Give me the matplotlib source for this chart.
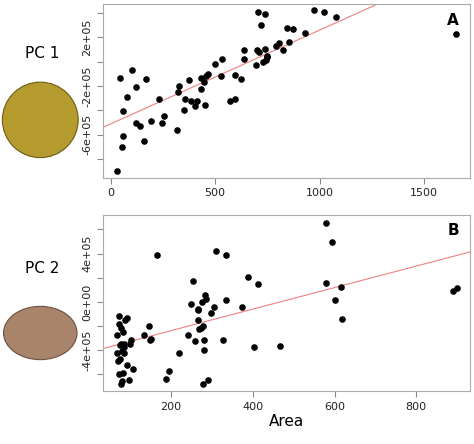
import numpy as np
import matplotlib
matplotlib.use("Agg")
import matplotlib.pyplot as plt
from matplotlib.patches import Ellipse

# Panel A (PC 1)
area_a = [30, 54, 57, 61, 43, 77, 102, 121, 121, 139, 160, 171, 195, 230, 246, 254, 319, 322, 327, 351, 354, 376, 386, 404, 413, 431, 434, 448, 454, 458, 464, 498, 528, 531, 571, 593, 593, 625, 636, 636, 697, 698, 708, 728, 737, 742, 748, 750, 703, 737, 718, 789, 804, 825, 845, 853, 872, 928, 973, 1019, 1077, 1654]
pc1 = [-8.95e5, -7.03e5, -6.13e5, -4.08e5, -1.32e5, -2.93e5, -6.9e4, -2.06e5, -5.06e5, -5.31e5, -6.54e5, -1.43e5, -4.83e5, -3.09e5, -5.06e5, -4.48e5, -5.63e5, -2.46e5, -1.97e5, -3.96e5, -3.06e5, -1.49e5, -3.2e5, -3.63e5, -3.22e5, -1.38e5, -2.22e5, -1.67e5, -3.52e5, -1.16e5, -9.8e4, -2.2e4, -1.2e5, 2.2e4, -3.2e5, -3.06e5, -1.07e5, -1.46e5, 1.9e4, 9.8e4, -2.9e4, 9.6e4, 7.6e4, -6e3, 1.03e5, 1.6e4, 3.5e4, 4.9e4, 4.1e5, 3.93e5, 3.0e5, 1.25e5, 1.52e5, 9.8e4, 2.73e5, 1.6e5, 2.68e5, 2.33e5, 4.25e5, 4.06e5, 3.68e5, 2.27e5]

# Panel B (PC 2)
area_b = [579, 595, 165, 310, 334, 253, 389, 412, 579, 616, 889, 899, 284, 285, 249, 275, 334, 266, 266, 297, 304, 374, 601, 618, 266, 274, 277, 269, 241, 258, 281, 326, 281, 219, 403, 467, 195, 187, 290, 277, 73, 92, 86, 73, 77, 82, 68, 133, 145, 148, 151, 101, 100, 78, 85, 74, 85, 80, 67, 84, 74, 70, 91, 107, 73, 82, 98, 77, 81]
pc2 = [6.57e5, 4.97e5, 3.86e5, 4.25e5, 3.86e5, 1.77e5, 2.04e5, 1.52e5, 1.57e5, 1.27e5, 9.4e4, 1.16e5, 6.1e4, 2.8e4, -1.4e4, 0, 1.4e4, -6e4, -6.3e4, -8.8e4, -4.4e4, -4.4e4, 1.7e4, -1.43e5, -1.52e5, -2.15e5, -1.99e5, -2.26e5, -2.76e5, -3.23e5, -3.12e5, -3.12e5, -4.0e5, -4.22e5, -3.72e5, -3.67e5, -5.71e5, -6.35e5, -6.49e5, -6.76e5, -1.19e5, -1.3e5, -1.52e5, -1.79e5, -2.12e5, -2.48e5, -2.7e5, -2.76e5, -1.96e5, -3.12e5, -3.09e5, -3.17e5, -3.5e5, -3.45e5, -3.45e5, -3.59e5, -3.73e5, -4.06e5, -4.22e5, -4.27e5, -4.69e5, -4.88e5, -5.24e5, -5.57e5, -5.93e5, -5.88e5, -6.49e5, -6.76e5, -6.57e5]

fit_a = (770.0, -5.11e5)  # slope, intercept
fit_b = (891.0, -4.16e5)

fig = plt.figure(figsize=(4.74, 4.44), dpi=100)
fig.patch.set_facecolor("white")

def style(ax):
    for s in ax.spines.values():
        s.set_color("#aaaaaa")
    ax.tick_params(colors="#888888", labelcolor="#222222", labelsize=8, length=4)
    for lab in ax.get_yticklabels():
        lab.set_rotation(90)
        lab.set_va("center")

axA = fig.add_axes([0.217, 0.599, 0.774, 0.392])
axA.scatter(area_a, pc1, s=14, color="black", zorder=3)
xs = np.array([-37, 1718])
axA.plot(xs, fit_a[0] * xs + fit_a[1], color="#f08080", lw=0.8)
axA.set_xlim(-37, 1718)
axA.set_ylim(-9.55e5, 4.73e5)
axA.set_xticks([0, 500, 1000, 1500])
axA.set_yticks([-8e5, -6e5, -4e5, -2e5, 0, 2e5, 4e5])
axA.set_yticklabels(["", "-6e+05", "", "-2e+05", "", "2e+05", ""])
axA.text(0.955, 0.88, "A", transform=axA.transAxes, fontsize=11, fontweight="bold", ha="center")
style(axA)

axB = fig.add_axes([0.217, 0.119, 0.774, 0.396])
axB.scatter(area_b, pc2, s=14, color="black", zorder=3)
xs = np.array([33, 931])
axB.plot(xs, fit_b[0] * xs + fit_b[1], color="#f08080", lw=0.8)
axB.set_xlim(33, 931)
axB.set_ylim(-7.39e5, 7.17e5)
axB.set_xticks([200, 400, 600, 800])
axB.set_yticks([-6e5, -4e5, -2e5, 0, 2e5, 4e5, 6e5])
axB.set_yticklabels(["", "-4e+05", "", "0e+00", "", "4e+05", ""])
axB.set_xlabel("Area", fontsize=11, labelpad=2)
axB.text(0.955, 0.89, "B", transform=axB.transAxes, fontsize=11, fontweight="bold", ha="center")
style(axB)

fig.text(0.089, 0.88, "PC 1", fontsize=11, ha="center", va="center")
fig.text(0.089, 0.395, "PC 2", fontsize=11, ha="center", va="center")

# shell stand-ins
fig.patches.append(Ellipse((0.085, 0.73), 0.16, 0.17, transform=fig.transFigure,
                           facecolor="#b59a2e", edgecolor="#6e5a14", lw=0.8))
fig.patches.append(Ellipse((0.085, 0.25), 0.155, 0.12, transform=fig.transFigure,
                           facecolor="#a8846a", edgecolor="#6e5040", lw=0.8))

fig.savefig("out.png", dpi=100, facecolor="white")
